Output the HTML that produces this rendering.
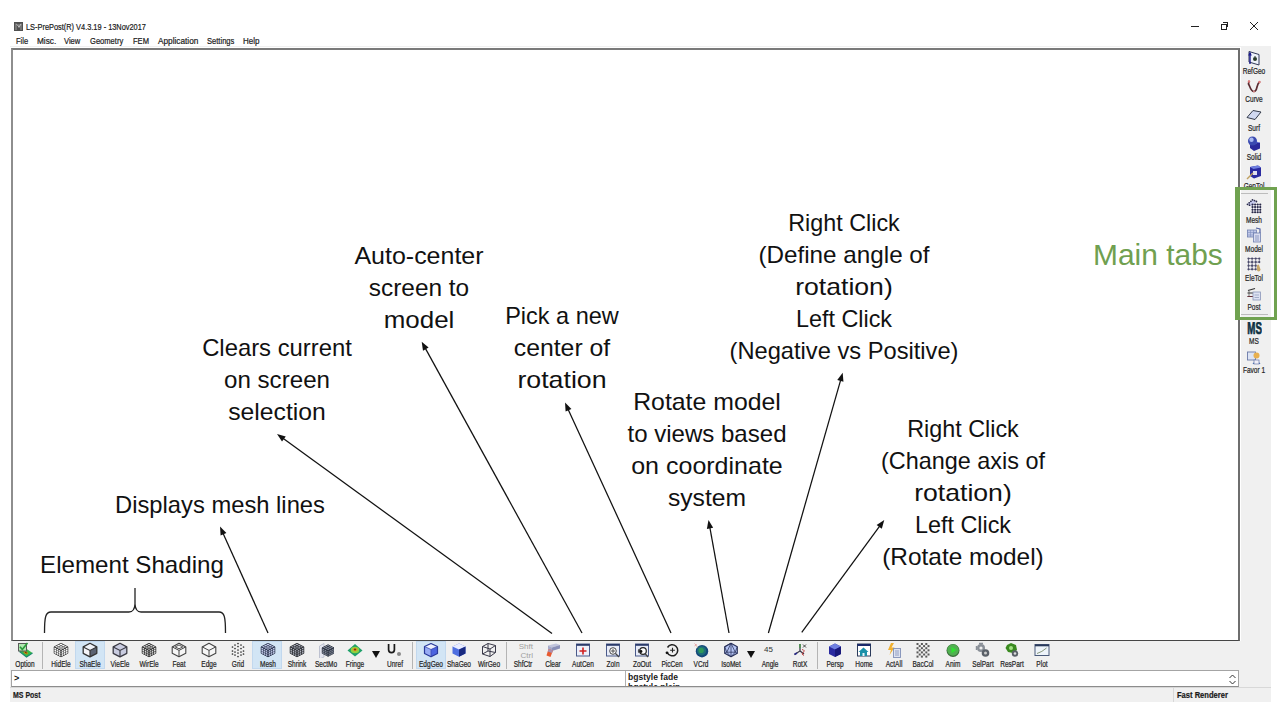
<!DOCTYPE html>
<html><head><meta charset="utf-8">
<style>
*{margin:0;padding:0;box-sizing:border-box}
html,body{width:1280px;height:720px;overflow:hidden;background:#fff;font-family:"Liberation Sans",sans-serif}
.a{position:absolute}
.t{position:absolute;white-space:nowrap;transform-origin:0 0}
.lbl{position:absolute;white-space:nowrap;font-size:8.6px;color:#262626;width:60px;text-align:center;top:659px;line-height:10px;transform:scaleX(0.76);-webkit-text-stroke:0.22px #262626}
.rl{position:absolute;white-space:nowrap;font-size:8.6px;color:#262626;width:60px;text-align:center;left:1224px;line-height:10px;transform:scaleX(0.76);-webkit-text-stroke:0.22px #262626}
.ann{position:absolute;white-space:nowrap;font-size:24px;color:#111;width:400px;text-align:center;line-height:32px;height:32px}
</style></head><body>

<svg class="a" style="left:13.5px;top:21.5px" width="9" height="9.5" viewBox="0 0 9 9.5"><rect x="0" y="0" width="9" height="9.5" fill="#505050"/><path d="M2 1.5V8M5 2V6M7 1.5V8" stroke="#9a9a9a" stroke-width="1"/><path d="M2.5 2L5 5L7 2" stroke="#d0d0d0" stroke-width="0.8" fill="none"/></svg>
<div class="t" style="left:26px;top:21.5px;font-size:8.6px;color:#1a1a1a;transform:scaleX(0.86);-webkit-text-stroke:0.2px #1a1a1a">LS-PrePost(R) V4.3.19 - 13Nov2017</div>
<div class="t" style="left:15.8px;top:35.5px;font-size:8.6px;color:#1a1a1a;transform:scaleX(0.88);-webkit-text-stroke:0.2px #1a1a1a">File</div>
<div class="t" style="left:36.8px;top:35.5px;font-size:8.6px;color:#1a1a1a;transform:scaleX(0.96);-webkit-text-stroke:0.2px #1a1a1a">Misc.</div>
<div class="t" style="left:63.8px;top:35.5px;font-size:8.6px;color:#1a1a1a;transform:scaleX(0.88);-webkit-text-stroke:0.2px #1a1a1a">View</div>
<div class="t" style="left:90px;top:35.5px;font-size:8.6px;color:#1a1a1a;transform:scaleX(0.88);-webkit-text-stroke:0.2px #1a1a1a">Geometry</div>
<div class="t" style="left:133px;top:35.5px;font-size:8.6px;color:#1a1a1a;transform:scaleX(0.88);-webkit-text-stroke:0.2px #1a1a1a">FEM</div>
<div class="t" style="left:157.8px;top:35.5px;font-size:8.6px;color:#1a1a1a;transform:scaleX(0.96);-webkit-text-stroke:0.2px #1a1a1a">Application</div>
<div class="t" style="left:206.6px;top:35.5px;font-size:8.6px;color:#1a1a1a;transform:scaleX(0.88);-webkit-text-stroke:0.2px #1a1a1a">Settings</div>
<div class="t" style="left:243.4px;top:35.5px;font-size:8.6px;color:#1a1a1a;transform:scaleX(0.93);-webkit-text-stroke:0.2px #1a1a1a">Help</div>
<div class="a" style="left:1191px;top:26px;width:8px;height:1px;background:#222"></div>
<div class="a" style="left:1221px;top:24px;width:6px;height:6px;border:1px solid #222"></div>
<div class="a" style="left:1223px;top:22px;width:5px;height:5px;border-top:1px solid #222;border-right:1px solid #222"></div>
<svg class="a" style="left:1249px;top:22px" width="10" height="8" viewBox="0 0 10 8"><path d="M1 0L9 8M9 0L1 8" stroke="#222" stroke-width="1"/></svg>
<div class="a" style="left:10px;top:46px;width:1261px;height:1px;background:#f0f0f0"></div>
<div class="a" style="left:1241px;top:46px;width:30px;height:656px;background:#f0f0f0"></div>
<div class="a" style="left:10px;top:641px;width:1261px;height:61px;background:#f0f0f0"></div>
<div class="a" style="left:11px;top:48px;width:1229px;height:593px;border:2px solid #7a7a7a;border-left-color:#8e8e8e;border-right-color:#6e6e6e;border-bottom:1px solid #464646;background:#fff"></div>
<div class="a" style="left:75px;top:641px;width:30px;height:28px;background:#d2e5f5;border:1px solid #c2d8ee"></div>
<div class="a" style="left:252px;top:641px;width:30px;height:28px;background:#d2e5f5;border:1px solid #c2d8ee"></div>
<div class="a" style="left:415.5px;top:641px;width:30.0px;height:28px;background:#d2e5f5;border:1px solid #c2d8ee"></div>
<div class="a" style="left:42.0px;top:642px;width:1px;height:27px;background:#b4b4b4"></div>
<div class="a" style="left:412.0px;top:642px;width:1px;height:27px;background:#b4b4b4"></div>
<div class="a" style="left:505.5px;top:642px;width:1px;height:27px;background:#b4b4b4"></div>
<div class="a" style="left:817.0px;top:642px;width:1px;height:27px;background:#b4b4b4"></div>
<svg class="a" style="left:17px;top:642px" width="16" height="16" viewBox="0 0 16 16"><path d="M2.5 9.5L9 6.5L15.5 11L9.5 15Z" fill="#3ab84a"/><path d="M2.5 9.5L9.5 15L15.5 11" fill="none" stroke="#1a8a70" stroke-width="1.1"/><ellipse cx="8.8" cy="10.6" rx="2.3" ry="1.3" transform="rotate(30 8.8 10.6)" fill="#d08a10"/><ellipse cx="8.8" cy="10.6" rx="1.1" ry="0.6" transform="rotate(30 8.8 10.6)" fill="#6a3a08"/><rect x="1.5" y="1.5" width="8" height="7.5" fill="#b0e8b0" stroke="#5a5a5a" stroke-width="1"/><path d="M3 4.8L5.3 7.5L10.5 1" fill="none" stroke="#2a9a3a" stroke-width="1.7"/></svg>
<div class="lbl" style="left:-5px">Option</div>
<svg class="a" style="left:52.5px;top:642px" width="16" height="16" viewBox="0 0 16 16"><path d="M8 1.3L14.8 4.9V11.3L8 14.8L1.2 11.3V4.9Z" fill="#333" stroke="#333" stroke-width="0.9" stroke-linejoin="round"/><path d="M8.00 1.59L9.72 2.50L8.00 3.40L6.28 2.50ZM5.73 2.79L7.46 3.69L5.73 4.59L4.01 3.70ZM3.47 3.99L5.19 4.88L3.47 5.78L1.74 4.90ZM10.27 2.79L11.99 3.70L10.27 4.59L8.54 3.69ZM8.00 3.97L9.72 4.88L8.00 5.77L6.28 4.88ZM5.73 5.16L7.46 6.06L5.73 6.95L4.01 6.06ZM12.53 3.99L14.26 4.90L12.53 5.78L10.81 4.88ZM10.27 5.16L11.99 6.06L10.27 6.95L8.54 6.06ZM8.00 6.34L9.72 7.23L8.00 8.12L6.28 7.23ZM1.47 5.30L3.19 6.18L3.19 7.80L1.47 6.92ZM1.47 7.43L3.19 8.32L3.19 9.94L1.47 9.05ZM1.47 9.56L3.19 10.45L3.19 12.07L1.47 11.18ZM3.74 6.46L5.46 7.35L5.46 8.97L3.74 8.08ZM3.74 8.60L5.46 9.48L5.46 11.10L3.74 10.22ZM3.74 10.73L5.46 11.62L5.46 13.24L3.74 12.35ZM6.01 7.63L7.73 8.52L7.73 10.14L6.01 9.25ZM6.01 9.76L7.73 10.65L7.73 12.27L6.01 11.38ZM6.01 11.90L7.73 12.78L7.73 14.40L6.01 13.52ZM8.27 8.52L9.99 7.63L9.99 9.25L8.27 10.14ZM8.27 10.65L9.99 9.76L9.99 11.38L8.27 12.27ZM8.27 12.78L9.99 11.90L9.99 13.52L8.27 14.40ZM10.54 7.35L12.26 6.46L12.26 8.08L10.54 8.97ZM10.54 9.48L12.26 8.60L12.26 10.22L10.54 11.10ZM10.54 11.62L12.26 10.73L12.26 12.35L10.54 13.24ZM12.81 6.18L14.53 5.30L14.53 6.92L12.81 7.80ZM12.81 8.32L14.53 7.43L14.53 9.05L12.81 9.94ZM12.81 10.45L14.53 9.56L14.53 11.18L12.81 12.07Z" fill="#fff"/><path d="M1.2 4.9L8 8.4L14.8 4.9M8 8.4V14.8" fill="none" stroke="#333" stroke-width="0.9"/></svg>
<div class="lbl" style="left:30.5px">HidEle</div>
<svg class="a" style="left:82px;top:642px" width="16" height="16" viewBox="0 0 16 16"><path d="M8 1.3L14.8 4.9L8 8.4L1.2 4.9Z" fill="#eef2f8"/><path d="M1.2 4.9L8 8.4V14.8L1.2 11.3Z" fill="#f4f4f8"/><path d="M14.8 4.9L8 8.4V14.8L14.8 11.3Z" fill="#5a6272"/><path d="M8 1.3L14.8 4.9V11.3L8 14.8L1.2 11.3V4.9Z" fill="none" stroke="#333" stroke-width="1.3" stroke-linejoin="round"/><path d="M1.2 4.9L8 8.4L14.8 4.9M8 8.4V14.8" fill="none" stroke="#333" stroke-width="1.1700000000000002"/></svg>
<div class="lbl" style="left:60px">ShaEle</div>
<svg class="a" style="left:111.5px;top:642px" width="16" height="16" viewBox="0 0 16 16"><path d="M8 1.3L14.8 4.9L8 8.4L1.2 4.9Z" fill="#c9cce0"/><path d="M1.2 4.9L8 8.4V14.8L1.2 11.3Z" fill="#c9cce0"/><path d="M14.8 4.9L8 8.4V14.8L14.8 11.3Z" fill="#c9cce0"/><path d="M8 1.3L14.8 4.9V11.3L8 14.8L1.2 11.3V4.9Z" fill="none" stroke="#3a3a44" stroke-width="1.3" stroke-linejoin="round"/><path d="M1.2 4.9L8 8.4L14.8 4.9M8 8.4V14.8" fill="none" stroke="#3a3a44" stroke-width="1.1700000000000002"/></svg>
<div class="lbl" style="left:89.5px">VieEle</div>
<svg class="a" style="left:141px;top:642px" width="16" height="16" viewBox="0 0 16 16"><path d="M8 1.3L14.8 4.9V11.3L8 14.8L1.2 11.3V4.9Z" fill="#333" stroke="#333" stroke-width="0.9" stroke-linejoin="round"/><path d="M8.00 1.71L9.50 2.50L8.00 3.28L6.50 2.50ZM5.73 2.91L7.23 3.69L5.73 4.48L4.24 3.70ZM3.47 4.10L4.96 4.88L3.47 5.67L1.97 4.89ZM10.27 2.91L11.76 3.70L10.27 4.48L8.77 3.69ZM8.00 4.09L9.50 4.88L8.00 5.65L6.50 4.88ZM5.73 5.28L7.23 6.06L5.73 6.83L4.24 6.06ZM12.53 4.10L14.03 4.89L12.53 5.67L11.04 4.88ZM10.27 5.28L11.76 6.06L10.27 6.83L8.77 6.06ZM8.00 6.46L9.50 7.23L8.00 8.00L6.50 7.23ZM1.59 5.46L3.08 6.23L3.08 7.64L1.59 6.87ZM1.59 7.59L3.08 8.36L3.08 9.77L1.59 9.00ZM1.59 9.73L3.08 10.50L3.08 11.91L1.59 11.14ZM3.85 6.63L5.35 7.40L5.35 8.81L3.85 8.04ZM3.85 8.76L5.35 9.53L5.35 10.94L3.85 10.17ZM3.85 10.89L5.35 11.66L5.35 13.07L3.85 12.30ZM6.12 7.79L7.61 8.56L7.61 9.97L6.12 9.20ZM6.12 9.93L7.61 10.70L7.61 12.11L6.12 11.34ZM6.12 12.06L7.61 12.83L7.61 14.24L6.12 13.47ZM8.39 8.56L9.88 7.79L9.88 9.20L8.39 9.97ZM8.39 10.70L9.88 9.93L9.88 11.34L8.39 12.11ZM8.39 12.83L9.88 12.06L9.88 13.47L8.39 14.24ZM10.65 7.40L12.15 6.63L12.15 8.04L10.65 8.81ZM10.65 9.53L12.15 8.76L12.15 10.17L10.65 10.94ZM10.65 11.66L12.15 10.89L12.15 12.30L10.65 13.07ZM12.92 6.23L14.41 5.46L14.41 6.87L12.92 7.64ZM12.92 8.36L14.41 7.59L14.41 9.00L12.92 9.77ZM12.92 10.50L14.41 9.73L14.41 11.14L12.92 11.91Z" fill="#e8e8e8"/><path d="M1.2 4.9L8 8.4L14.8 4.9M8 8.4V14.8" fill="none" stroke="#333" stroke-width="0.9"/></svg>
<div class="lbl" style="left:119px">WirEle</div>
<svg class="a" style="left:170.5px;top:642px" width="16" height="16" viewBox="0 0 16 16"><path d="M8 1.3L14.8 4.9L8 8.4L1.2 4.9Z" fill="#f6f6f6"/><path d="M1.2 4.9L8 8.4V14.8L1.2 11.3Z" fill="#f6f6f6"/><path d="M14.8 4.9L8 8.4V14.8L14.8 11.3Z" fill="#f6f6f6"/><path d="M8 1.3L14.8 4.9V11.3L8 14.8L1.2 11.3V4.9Z" fill="none" stroke="#444" stroke-width="1.1" stroke-linejoin="round"/><path d="M1.2 4.9L8 8.4L14.8 4.9M8 8.4V14.8" fill="none" stroke="#444" stroke-width="0.9900000000000001"/><path d="M4.2 4.9L8 3L11.8 4.9L8 6.8Z" fill="none" stroke="#444" stroke-width="0.9"/></svg>
<div class="lbl" style="left:148.5px">Feat</div>
<svg class="a" style="left:200.5px;top:642px" width="16" height="16" viewBox="0 0 16 16"><path d="M8 1.3L14.8 4.9L8 8.4L1.2 4.9Z" fill="#f6f6f6"/><path d="M1.2 4.9L8 8.4V14.8L1.2 11.3Z" fill="#f6f6f6"/><path d="M14.8 4.9L8 8.4V14.8L14.8 11.3Z" fill="#f6f6f6"/><path d="M8 1.3L14.8 4.9V11.3L8 14.8L1.2 11.3V4.9Z" fill="none" stroke="#444" stroke-width="1.1" stroke-linejoin="round"/><path d="M1.2 4.9L8 8.4L14.8 4.9M8 8.4V14.8" fill="none" stroke="#444" stroke-width="0.9900000000000001"/></svg>
<div class="lbl" style="left:178.5px">Edge</div>
<svg class="a" style="left:230px;top:642px" width="16" height="16" viewBox="0 0 16 16"><circle cx="8" cy="1.5" r="0.85" fill="#333"/><circle cx="5" cy="3" r="0.85" fill="#333"/><circle cx="11" cy="3" r="0.85" fill="#333"/><circle cx="2.5" cy="5" r="0.85" fill="#333"/><circle cx="8" cy="4.5" r="0.85" fill="#333"/><circle cx="13.5" cy="5" r="0.85" fill="#333"/><circle cx="5" cy="6.5" r="0.85" fill="#333"/><circle cx="11" cy="6.5" r="0.85" fill="#333"/><circle cx="8" cy="8" r="0.85" fill="#333"/><circle cx="2.5" cy="9" r="0.85" fill="#333"/><circle cx="13.5" cy="9" r="0.85" fill="#333"/><circle cx="5" cy="10" r="0.85" fill="#333"/><circle cx="11" cy="10" r="0.85" fill="#333"/><circle cx="8" cy="11" r="0.85" fill="#333"/><circle cx="2.5" cy="12" r="0.85" fill="#333"/><circle cx="13.5" cy="12" r="0.85" fill="#333"/><circle cx="5" cy="13" r="0.85" fill="#333"/><circle cx="11" cy="13" r="0.85" fill="#333"/><circle cx="8" cy="14.5" r="0.85" fill="#333"/></svg>
<div class="lbl" style="left:208px">Grid</div>
<svg class="a" style="left:259.5px;top:642px" width="16" height="16" viewBox="0 0 16 16"><path d="M8 1.3L14.8 4.9V11.3L8 14.8L1.2 11.3V4.9Z" fill="#26304a" stroke="#26304a" stroke-width="0.9" stroke-linejoin="round"/><path d="M8.00 1.61L9.68 2.50L8.00 3.38L6.32 2.50ZM5.73 2.81L7.41 3.69L5.73 4.57L4.06 3.70ZM3.47 4.01L5.14 4.88L3.47 5.76L1.79 4.90ZM10.27 2.81L11.94 3.70L10.27 4.57L8.59 3.69ZM8.00 4.00L9.68 4.88L8.00 5.75L6.32 4.88ZM5.73 5.19L7.41 6.06L5.73 6.93L4.06 6.06ZM12.53 4.01L14.21 4.90L12.53 5.76L10.86 4.88ZM10.27 5.19L11.94 6.06L10.27 6.93L8.59 6.06ZM8.00 6.36L9.68 7.23L8.00 8.10L6.32 7.23ZM1.49 5.33L3.17 6.19L3.17 7.77L1.49 6.91ZM1.49 7.46L3.17 8.33L3.17 9.90L1.49 9.04ZM1.49 9.60L3.17 10.46L3.17 12.04L1.49 11.17ZM3.76 6.50L5.44 7.36L5.44 8.94L3.76 8.07ZM3.76 8.63L5.44 9.49L5.44 11.07L3.76 10.21ZM3.76 10.76L5.44 11.63L5.44 13.20L3.76 12.34ZM6.03 7.66L7.71 8.53L7.71 10.10L6.03 9.24ZM6.03 9.80L7.71 10.66L7.71 12.24L6.03 11.37ZM6.03 11.93L7.71 12.79L7.71 14.37L6.03 13.51ZM8.29 8.53L9.97 7.66L9.97 9.24L8.29 10.10ZM8.29 10.66L9.97 9.80L9.97 11.37L8.29 12.24ZM8.29 12.79L9.97 11.93L9.97 13.51L8.29 14.37ZM10.56 7.36L12.24 6.50L12.24 8.07L10.56 8.94ZM10.56 9.49L12.24 8.63L12.24 10.21L10.56 11.07ZM10.56 11.63L12.24 10.76L12.24 12.34L10.56 13.20ZM12.83 6.19L14.51 5.33L14.51 6.91L12.83 7.77ZM12.83 8.33L14.51 7.46L14.51 9.04L12.83 9.90ZM12.83 10.46L14.51 9.60L14.51 11.17L12.83 12.04Z" fill="#c8d0f0"/><path d="M1.2 4.9L8 8.4L14.8 4.9M8 8.4V14.8" fill="none" stroke="#26304a" stroke-width="0.9"/></svg>
<div class="lbl" style="left:237.5px">Mesh</div>
<svg class="a" style="left:288.5px;top:642px" width="16" height="16" viewBox="0 0 16 16"><path d="M8 1.3L14.8 4.9V11.3L8 14.8L1.2 11.3V4.9Z" fill="#303238" stroke="#303238" stroke-width="0.9" stroke-linejoin="round"/><path d="M8.00 1.76L9.41 2.50L8.00 3.24L6.59 2.50ZM5.73 2.95L7.14 3.69L5.73 4.43L4.33 3.70ZM3.47 4.15L4.87 4.88L3.47 5.62L2.06 4.89ZM10.27 2.95L11.67 3.70L10.27 4.43L8.86 3.69ZM8.00 4.14L9.41 4.88L8.00 5.61L6.59 4.88ZM5.73 5.33L7.14 6.06L5.73 6.79L4.33 6.06ZM12.53 4.15L13.94 4.89L12.53 5.62L11.13 4.88ZM10.27 5.33L11.67 6.06L10.27 6.79L8.86 6.06ZM8.00 6.50L9.41 7.23L8.00 7.96L6.59 7.23ZM1.63 5.53L3.04 6.25L3.04 7.57L1.63 6.85ZM1.63 7.66L3.04 8.38L3.04 9.71L1.63 8.98ZM1.63 9.79L3.04 10.52L3.04 11.84L1.63 11.12ZM3.90 6.69L5.30 7.42L5.30 8.74L3.90 8.02ZM3.90 8.83L5.30 9.55L5.30 10.87L3.90 10.15ZM3.90 10.96L5.30 11.68L5.30 13.01L3.90 12.28ZM6.16 7.86L7.57 8.58L7.57 9.91L6.16 9.18ZM6.16 9.99L7.57 10.72L7.57 12.04L6.16 11.32ZM6.16 12.13L7.57 12.85L7.57 14.17L6.16 13.45ZM8.43 8.58L9.84 7.86L9.84 9.18L8.43 9.91ZM8.43 10.72L9.84 9.99L9.84 11.32L8.43 12.04ZM8.43 12.85L9.84 12.13L9.84 13.45L8.43 14.17ZM10.70 7.42L12.10 6.69L12.10 8.02L10.70 8.74ZM10.70 9.55L12.10 8.83L12.10 10.15L10.70 10.87ZM10.70 11.68L12.10 10.96L12.10 12.28L10.70 13.01ZM12.96 6.25L14.37 5.53L14.37 6.85L12.96 7.57ZM12.96 8.38L14.37 7.66L14.37 8.98L12.96 9.71ZM12.96 10.52L14.37 9.79L14.37 11.12L12.96 11.84Z" fill="#c0c4d0"/><path d="M1.2 4.9L8 8.4L14.8 4.9M8 8.4V14.8" fill="none" stroke="#303238" stroke-width="0.9"/></svg>
<div class="lbl" style="left:266.5px">Shrink</div>
<svg class="a" style="left:317.5px;top:642px" width="16" height="16" viewBox="0 0 16 16"><path d="M1.5 4L6 1.5V15L1.5 17Z" fill="#e4e6f0" stroke="#b8bccc" stroke-width="0.9"/><g transform="translate(3.2 1.6) scale(0.86)"><path d="M8 1.3L14.8 4.9V11.3L8 14.8L1.2 11.3V4.9Z" fill="#262c3a" stroke="#262c3a" stroke-width="0.9" stroke-linejoin="round"/><path d="M8.00 1.78L9.36 2.50L8.00 3.21L6.64 2.50ZM5.73 2.98L7.09 3.69L5.73 4.40L4.37 3.70ZM3.47 4.18L4.83 4.88L3.47 5.60L2.11 4.89ZM10.27 2.98L11.63 3.70L10.27 4.40L8.91 3.69ZM8.00 4.16L9.36 4.88L8.00 5.58L6.64 4.88ZM5.73 5.35L7.09 6.06L5.73 6.76L4.37 6.06ZM12.53 4.18L13.89 4.89L12.53 5.60L11.17 4.88ZM10.27 5.35L11.63 6.06L10.27 6.76L8.91 6.06ZM8.00 6.53L9.36 7.23L8.00 7.93L6.64 7.23ZM1.65 5.56L3.01 6.26L3.01 7.54L1.65 6.84ZM1.65 7.69L3.01 8.39L3.01 9.67L1.65 8.97ZM1.65 9.83L3.01 10.53L3.01 11.81L1.65 11.11ZM3.92 6.73L5.28 7.43L5.28 8.71L3.92 8.01ZM3.92 8.86L5.28 9.56L5.28 10.84L3.92 10.14ZM3.92 10.99L5.28 11.69L5.28 12.97L3.92 12.27ZM6.19 7.89L7.55 8.59L7.55 9.87L6.19 9.17ZM6.19 10.03L7.55 10.73L7.55 12.01L6.19 11.31ZM6.19 12.16L7.55 12.86L7.55 14.14L6.19 13.44ZM8.45 8.59L9.81 7.89L9.81 9.17L8.45 9.87ZM8.45 10.73L9.81 10.03L9.81 11.31L8.45 12.01ZM8.45 12.86L9.81 12.16L9.81 13.44L8.45 14.14ZM10.72 7.43L12.08 6.73L12.08 8.01L10.72 8.71ZM10.72 9.56L12.08 8.86L12.08 10.14L10.72 10.84ZM10.72 11.69L12.08 10.99L12.08 12.27L10.72 12.97ZM12.99 6.26L14.35 5.56L14.35 6.84L12.99 7.54ZM12.99 8.39L14.35 7.69L14.35 8.97L12.99 9.67ZM12.99 10.53L14.35 9.83L14.35 11.11L12.99 11.81Z" fill="#b4bccc"/><path d="M1.2 4.9L8 8.4L14.8 4.9M8 8.4V14.8" fill="none" stroke="#262c3a" stroke-width="0.9"/></g></svg>
<div class="lbl" style="left:295.5px">SectMo</div>
<svg class="a" style="left:347px;top:642px" width="16" height="16" viewBox="0 0 16 16"><path d="M8 2L15.5 8.5L8 14.5L0.5 8.5Z" fill="#1fa06a"/><ellipse cx="8" cy="8" rx="4.2" ry="3.2" fill="#8dd040"/><ellipse cx="8" cy="7.6" rx="2.4" ry="1.8" fill="#e0a020"/><ellipse cx="8" cy="7.5" rx="1.3" ry="0.9" fill="#7a3a10"/></svg>
<div class="lbl" style="left:325px">Fringe</div>
<div class="lbl" style="left:365px">Unref</div>
<svg class="a" style="left:422.5px;top:642px" width="16" height="16" viewBox="0 0 16 16"><path d="M8 1.5L14.5 4.5V11.5L8 14.8L1.5 11.5V4.5Z" fill="#98acf4"/><path d="M8 1.5L14.5 4.5L8 7.5L1.5 4.5Z" fill="#eef2ff"/><path d="M14.5 4.5V11.5L8 14.8V7.5Z" fill="#4a64e0"/><path d="M8 1.5L14.5 4.5V11.5L8 14.8L1.5 11.5V4.5Z" fill="none" stroke="#2a3a9a" stroke-width="1.2" stroke-linejoin="round"/><path d="M1.5 4.5L8 7.5L14.5 4.5M8 7.5V14.8" fill="none" stroke="#3a4ab0" stroke-width="0.8"/></svg>
<div class="lbl" style="left:400.5px">EdgGeo</div>
<svg class="a" style="left:451px;top:642px" width="16" height="16" viewBox="0 0 16 16"><path d="M8 1.5L14.5 4.5V11.5L8 14.8L1.5 11.5V4.5Z" fill="#5070e0"/><path d="M8 1.5L14.5 4.5L8 7.5L1.5 4.5Z" fill="#e8ecff"/><path d="M14.5 4.5V11.5L8 14.8V7.5Z" fill="#1a2a80"/></svg>
<div class="lbl" style="left:429px">ShaGeo</div>
<svg class="a" style="left:481px;top:642px" width="16" height="16" viewBox="0 0 16 16"><path d="M1.5 4.5L7 1.5L14.5 3.5V10.5L9 14.5L1.5 12Z M1.5 4.5L9 7L14.5 3.5 M9 7V14.5 M7 1.5V9 M1.5 12L7 9L14.5 10.5" fill="none" stroke="#3a3a4a" stroke-width="1" stroke-linejoin="round"/></svg>
<div class="lbl" style="left:459px">WirGeo</div>
<div class="lbl" style="left:493px">ShfCtr</div>
<svg class="a" style="left:545px;top:642px" width="16" height="16" viewBox="0 0 16 16"><path d="M3 3.5L11 1.5L15 3L7 5.5Z" fill="#c0c4dc"/><path d="M7 5.5L15 3V6.5L7 9Z" fill="#8a90b8"/><path d="M3 3.5L7 5.5V9L3 7Z" fill="#a4a8c8"/><path d="M3.5 7L8 8.5L5.5 15L1.5 13.5Z" fill="#e85a30"/><path d="M3.5 7L8 8.5L7 11L2.8 9.5Z" fill="#a890b0"/></svg>
<div class="lbl" style="left:523px">Clear</div>
<svg class="a" style="left:575px;top:642px" width="16" height="16" viewBox="0 0 16 16"><rect x="1.5" y="2" width="13" height="12" fill="#eef0fa" stroke="#4a5a8a" stroke-width="1"/><rect x="1.5" y="2" width="13" height="1.8" fill="#2a3a6a"/><path d="M8 5.5V12.5M4.5 9H11.5" stroke="#d02020" stroke-width="1.6"/></svg>
<div class="lbl" style="left:553px">AutCen</div>
<svg class="a" style="left:604.5px;top:642px" width="16" height="16" viewBox="0 0 16 16"><rect x="1.5" y="2" width="13" height="12" fill="#e8ecf8" stroke="#4a5a8a" stroke-width="1"/><rect x="1.5" y="2" width="13" height="1.8" fill="#2a3a6a"/><circle cx="8" cy="9" r="3.3" fill="#fff" stroke="#333" stroke-width="0.9"/><path d="M8 7V11M6 9H10" stroke="#333" stroke-width="0.8"/><path d="M10.5 11.5L14 15" stroke="#444" stroke-width="1.2"/></svg>
<div class="lbl" style="left:582.5px">ZoIn</div>
<svg class="a" style="left:634px;top:642px" width="16" height="16" viewBox="0 0 16 16"><rect x="1.5" y="2" width="13" height="12" fill="#e8ecf8" stroke="#4a5a8a" stroke-width="1"/><rect x="1.5" y="2" width="13" height="1.8" fill="#2a3a6a"/><circle cx="9" cy="9" r="3.3" fill="#fff" stroke="#222" stroke-width="1.2"/><circle cx="7" cy="9.5" r="1.4" fill="#111"/><path d="M5 7Q3.5 9 5 11" fill="none" stroke="#333" stroke-width="0.9"/><path d="M11 11.5L14 15" stroke="#444" stroke-width="1.2"/></svg>
<div class="lbl" style="left:612px">ZoOut</div>
<svg class="a" style="left:663.5px;top:642px" width="16" height="16" viewBox="0 0 16 16"><path d="M3.2 10.5A5.5 5.5 0 1 0 3.5 5.5" fill="none" stroke="#222" stroke-width="1.5"/><circle cx="3" cy="10.8" r="1.4" fill="#111"/><path d="M8.5 5.8V10.6M6.1 8.2H10.9" stroke="#222" stroke-width="1.1"/></svg>
<div class="lbl" style="left:641.5px">PicCen</div>
<svg class="a" style="left:693px;top:642px" width="16" height="16" viewBox="0 0 16 16"><circle cx="9" cy="9.2" r="6.2" fill="#14487a"/><circle cx="8.6" cy="8.8" r="4.6" fill="#1e6e7a"/><circle cx="8.2" cy="8.4" r="2.6" fill="#2e9a5a"/><path d="M1.5 1.5L3.5 3.5M1.5 4L4 2.5" stroke="#e08a8a" stroke-width="0.7"/><path d="M3.5 4.5L4.5 5.5" stroke="#e8c070" stroke-width="0.8"/></svg>
<div class="lbl" style="left:671px">VCrd</div>
<svg class="a" style="left:722.5px;top:642px" width="16" height="16" viewBox="0 0 16 16"><path d="M8 1.2L14.3 4.8V11.2L8 14.8L1.7 11.2V4.8Z" fill="#b4c4f4" stroke="#283058" stroke-width="1.1" stroke-linejoin="round"/><path d="M8 1.2L3.8 10.2H12.2Z M8 1.2V14.8 M1.7 4.8L8 1.2 M3.8 10.2L1.7 11.2 M12.2 10.2L14.3 11.2 M3.8 10.2L8 14.8L12.2 10.2 M1.7 4.8L3.8 10.2 M14.3 4.8L12.2 10.2" fill="none" stroke="#283058" stroke-width="0.75"/></svg>
<div class="lbl" style="left:700.5px">IsoMet</div>
<div class="lbl" style="left:740px">Angle</div>
<svg class="a" style="left:792px;top:642px" width="16" height="16" viewBox="0 0 16 16"><path d="M8 2V9L2.5 12.5M8 9L12 12" stroke="#3a3a4a" stroke-width="1.3" fill="none"/><path d="M8 2V6" stroke="#40a040" stroke-width="1.2"/><path d="M2.5 12.5L5 11" stroke="#2a2a8a" stroke-width="1.6"/><path d="M11 2.5L14 5.5M14 2.5L11 5.5" stroke="#333" stroke-width="0.9"/><path d="M10 7.5Q14 8.5 11 10.5Q8.5 12 12 13.5" fill="none" stroke="#c04040" stroke-width="1"/></svg>
<div class="lbl" style="left:770px">RotX</div>
<svg class="a" style="left:826.5px;top:642px" width="16" height="16" viewBox="0 0 16 16"><path d="M8 1.5L14 4.5V12L8 15L2 12V4.5Z" fill="#2a2aa0"/><path d="M8 1.5L14 4.5L8 7.5L2 4.5Z" fill="#7080e0"/><path d="M14 4.5V12L8 15V7.5Z" fill="#18187a"/></svg>
<div class="lbl" style="left:804.5px">Persp</div>
<svg class="a" style="left:856px;top:642px" width="16" height="16" viewBox="0 0 16 16"><rect x="1.5" y="2" width="13" height="12" fill="#fff" stroke="#2a3a5a" stroke-width="1"/><rect x="1.5" y="2" width="13" height="2" fill="#1a2a6a"/><path d="M2.5 10L7.5 5.5L12.5 10H11V14H4V10Z" fill="#1a90a8"/><rect x="6.5" y="11" width="2" height="3" fill="#e8f4f8"/></svg>
<div class="lbl" style="left:834px">Home</div>
<svg class="a" style="left:885.5px;top:642px" width="16" height="16" viewBox="0 0 16 16"><path d="M5 1L2 8H5L3.5 13L8.5 5.5H5.5L8 1Z" fill="#f0b030"/><rect x="7.5" y="6.5" width="7" height="9" fill="#dde2f0" stroke="#8090b8" stroke-width="0.9"/><path d="M9 9H13M9 11H13M9 13H13" stroke="#8090b8" stroke-width="0.8"/></svg>
<div class="lbl" style="left:863.5px">ActAll</div>
<svg class="a" style="left:915px;top:642px" width="16" height="16" viewBox="0 0 16 16"><rect x="1.5" y="1.0" width="2" height="2" fill="#5a5a5a"/><rect x="1.5" y="5.2" width="2" height="2" fill="#5a5a5a"/><rect x="1.5" y="9.4" width="2" height="2" fill="#5a5a5a"/><rect x="1.5" y="13.6" width="2" height="2" fill="#5a5a5a"/><rect x="3.7" y="3.1" width="2" height="2" fill="#5a5a5a"/><rect x="3.7" y="7.3" width="2" height="2" fill="#5a5a5a"/><rect x="3.7" y="11.5" width="2" height="2" fill="#5a5a5a"/><rect x="5.9" y="1.0" width="2" height="2" fill="#5a5a5a"/><rect x="5.9" y="5.2" width="2" height="2" fill="#5a5a5a"/><rect x="5.9" y="9.4" width="2" height="2" fill="#5a5a5a"/><rect x="5.9" y="13.6" width="2" height="2" fill="#5a5a5a"/><rect x="8.1" y="3.1" width="2" height="2" fill="#5a5a5a"/><rect x="8.1" y="7.3" width="2" height="2" fill="#5a5a5a"/><rect x="8.1" y="11.5" width="2" height="2" fill="#5a5a5a"/><rect x="10.3" y="1.0" width="2" height="2" fill="#5a5a5a"/><rect x="10.3" y="5.2" width="2" height="2" fill="#5a5a5a"/><rect x="10.3" y="9.4" width="2" height="2" fill="#5a5a5a"/><rect x="10.3" y="13.6" width="2" height="2" fill="#5a5a5a"/><rect x="12.5" y="3.1" width="2" height="2" fill="#5a5a5a"/><rect x="12.5" y="7.3" width="2" height="2" fill="#5a5a5a"/><rect x="12.5" y="11.5" width="2" height="2" fill="#5a5a5a"/></svg>
<div class="lbl" style="left:893px">BacCol</div>
<svg class="a" style="left:945px;top:642px" width="16" height="16" viewBox="0 0 16 16"><circle cx="8" cy="8.5" r="6.5" fill="#3a6a3a"/><circle cx="8" cy="8" r="5.8" fill="#50b050"/><path d="M6.5 4.8L11.5 8L6.5 11.2Z" fill="#30e030"/></svg>
<div class="lbl" style="left:923px">Anim</div>
<svg class="a" style="left:974.5px;top:642px" width="16" height="16" viewBox="0 0 16 16"><circle cx="6" cy="6" r="4" fill="#8a9098"/><circle cx="6" cy="6" r="1.6" fill="#eee"/><circle cx="10.5" cy="11" r="3.8" fill="#5a6068"/><circle cx="10.5" cy="11" r="1.5" fill="#ccc"/><path d="M4 1.5H8M1.5 4V8" stroke="#8a9098" stroke-width="1.4"/></svg>
<div class="lbl" style="left:952.5px">SelPart</div>
<svg class="a" style="left:1004px;top:642px" width="16" height="16" viewBox="0 0 16 16"><path d="M3 3L7 1L12 3L13 8L9 11L4 10L1.5 6Z" fill="#3a8a20"/><circle cx="7" cy="6" r="2" fill="#a0e080"/><circle cx="11" cy="11.5" r="3.2" fill="#5a6068"/><circle cx="11" cy="11.5" r="1.3" fill="#ddd"/></svg>
<div class="lbl" style="left:982px">ResPart</div>
<svg class="a" style="left:1034px;top:642px" width="16" height="16" viewBox="0 0 16 16"><rect x="1" y="2.5" width="14" height="11" fill="#eef4fa" stroke="#4a5a7a" stroke-width="1"/><rect x="1" y="2.5" width="14" height="1.8" fill="#2a3a5a"/><path d="M3 11.5Q8 10 12.5 6" fill="none" stroke="#7a8a6a" stroke-width="0.9"/></svg>
<div class="lbl" style="left:1012px">Plot</div>
<svg class="a" style="left:371.5px;top:651px" width="8" height="7" viewBox="0 0 8 7"><path d="M0 0H8L4 7Z" fill="#111"/></svg>
<svg class="a" style="left:747px;top:651px" width="8" height="7" viewBox="0 0 8 7"><path d="M0 0H8L4 7Z" fill="#111"/></svg>
<svg class="a" style="left:386px;top:643px" width="11" height="11" viewBox="0 0 11 11"><path d="M2.6 1V6.8Q2.6 9.6 5.5 9.6Q8.4 9.6 8.4 6.8V1" fill="none" stroke="#1a1a1a" stroke-width="1.7"/></svg>
<div class="a" style="left:397px;top:651.5px;width:4px;height:4px;border-radius:50%;background:#888"></div>
<div class="t" style="left:515px;top:642px;font-size:8px;line-height:9px;color:#a0a0a0;text-align:right;width:18px">Shft<br>Ctrl</div>
<div class="t" style="left:764px;top:645px;font-size:8px;color:#333">45</div>
<div class="a" style="left:11px;top:670px;width:1228px;height:17px;background:#fff;border:1px solid #a4a4a4;border-bottom-color:#8c8c8c"></div>
<div class="t" style="left:14px;top:672.5px;font-size:9px;font-weight:bold;color:#111">&gt;</div>
<div class="a" style="left:625px;top:671px;width:1px;height:15px;background:#b0b0b0"></div>
<div class="a" style="left:626px;top:671px;width:590px;height:15px;overflow:hidden"><div class="t" style="left:1.5px;top:0.5px;font-size:9px;line-height:10px;font-weight:bold;color:#1a1a1a;transform:scaleX(0.95)">bgstyle fade<br>bgstyle plain</div></div>
<svg class="a" style="left:1228px;top:673px" width="9" height="13" viewBox="0 0 9 13"><path d="M1.5 5L4.5 2L7.5 5M1.5 8L4.5 11L7.5 8" fill="none" stroke="#333" stroke-width="1"/></svg>
<div class="a" style="left:10px;top:687px;width:1261px;height:1px;background:#d8d8d8"></div>
<div class="t" style="left:12.5px;top:690px;font-size:8.6px;font-weight:bold;color:#1a1a1a;transform:scaleX(0.81);-webkit-text-stroke:0.2px #1a1a1a">MS Post</div>
<div class="a" style="left:1173px;top:688px;width:1px;height:14px;background:#d8d8d8"></div>
<div class="t" style="left:1176.5px;top:690px;font-size:8.6px;font-weight:bold;color:#1a1a1a;transform:scaleX(0.88);-webkit-text-stroke:0.2px #1a1a1a">Fast Renderer</div>
<svg class="a" style="left:1245.5px;top:50px" width="16" height="16" viewBox="0 0 16 16"><path d="M3 1.5L13 4.5V15L3 12Z" fill="#eef2fa" stroke="#333a5a" stroke-width="1"/><path d="M4 14V3" stroke="#1a1a8a" stroke-width="1.4"/><path d="M2.2 5.5L4 1.5L5.8 5.5Z" fill="#1a1a8a"/><circle cx="9" cy="9" r="2" fill="#2a3a2a"/><path d="M9 6V7" stroke="#2a3a2a"/></svg>
<div class="rl" style="top:65.5px">RefGeo</div>
<svg class="a" style="left:1245.5px;top:79px" width="16" height="16" viewBox="0 0 16 16"><path d="M3 2.5Q1.8 4.5 3.5 7Q5.5 12.5 8 12.5Q10 12.5 11 8Q12 4 13.5 3" fill="none" stroke="#5a2a30" stroke-width="1.7" stroke-linecap="round"/><circle cx="3" cy="2.5" r="1.2" fill="#e07a7a"/><circle cx="13.5" cy="3" r="1.2" fill="#e07a7a"/><circle cx="8" cy="12.5" r="0.9" fill="#e08a8a"/></svg>
<div class="rl" style="top:94px">Curve</div>
<svg class="a" style="left:1245.5px;top:109px" width="16" height="16" viewBox="0 0 16 16"><path d="M7 1.5L15 3L9 10.5L1 8.5Z" fill="#d0d8f0" stroke="#333a4a" stroke-width="1" stroke-linejoin="round"/></svg>
<div class="rl" style="top:122.5px">Surf</div>
<svg class="a" style="left:1245.5px;top:135px" width="16" height="16" viewBox="0 0 16 16"><path d="M6 9L14 7.5V13.5L8 16L4 13V9Z" fill="#2a2a9a"/><path d="M6 9L14 7.5L8 6Z" fill="#5060d0"/><circle cx="6.5" cy="6" r="4.5" fill="#3a4ab0"/><circle cx="5.5" cy="4.8" r="2.2" fill="#a8b8f0"/></svg>
<div class="rl" style="top:151.5px">Solid</div>
<svg class="a" style="left:1245.5px;top:164px" width="16" height="16" viewBox="0 0 16 16"><path d="M4 3L12 1.5L15 3.5V12L8 14.5L4 12Z" fill="#2a2aa0"/><path d="M4 3L12 1.5L15 3.5L7.5 5Z" fill="#7080e0"/><rect x="7" y="7" width="4" height="4" fill="#e0e0f0"/><path d="M1 15L7 9" stroke="#c0a060" stroke-width="1.5"/></svg>
<div class="rl" style="top:180.5px">GenTol</div>
<svg class="a" style="left:1245.5px;top:198px" width="16" height="16" viewBox="0 0 16 16"><path d="M1.2 6.3L6.4 1.8L10.5 3.5L5.5 8Z" fill="#c8ccf0"/><path d="M6.5 6.5H14.3V14.3H6.5Z M9.1 6.5V14.3M11.7 6.5V14.3M6.5 9.1H14.3M6.5 11.7H14.3" fill="#fff" stroke="#6a6a8a" stroke-width="0.5"/><g fill="#2a2a4a"><circle cx="6.5" cy="6.5" r="1.05"/><circle cx="6.5" cy="9.1" r="1.05"/><circle cx="6.5" cy="11.7" r="1.05"/><circle cx="6.5" cy="14.3" r="1.05"/><circle cx="9.1" cy="6.5" r="1.05"/><circle cx="9.1" cy="9.1" r="1.05"/><circle cx="9.1" cy="11.7" r="1.05"/><circle cx="9.1" cy="14.3" r="1.05"/><circle cx="11.7" cy="6.5" r="1.05"/><circle cx="11.7" cy="9.1" r="1.05"/><circle cx="11.7" cy="11.7" r="1.05"/><circle cx="11.7" cy="14.3" r="1.05"/><circle cx="14.3" cy="6.5" r="1.05"/><circle cx="14.3" cy="9.1" r="1.05"/><circle cx="14.3" cy="11.7" r="1.05"/><circle cx="14.3" cy="14.3" r="1.05"/><circle cx="1.5" cy="6.3" r="0.9"/><circle cx="3.2" cy="4.8" r="0.9"/><circle cx="4.9" cy="3.3" r="0.9"/><circle cx="6.5" cy="1.8" r="0.9"/><circle cx="8.5" cy="2.6" r="0.9"/><circle cx="10.4" cy="3.5" r="0.9"/><circle cx="3.5" cy="7.2" r="0.9"/></g></svg>
<div class="rl" style="top:214.5px">Mesh</div>
<svg class="a" style="left:1245.5px;top:227px" width="16" height="16" viewBox="0 0 16 16"><rect x="1.5" y="3" width="9" height="7" fill="#c0c8e8" stroke="#7080b0" stroke-width="0.8"/><path d="M1.5 5.5H10.5M1.5 8H10.5M4.5 3V10M7.5 3V10" stroke="#8090c0" stroke-width="0.6"/><rect x="7.5" y="6" width="7" height="9" fill="#d8dcf0" stroke="#7080b0" stroke-width="0.8"/><path d="M9 9H13M9 11H13M9 13H13" stroke="#7080b0" stroke-width="0.7"/><path d="M10 1L14 2V6" stroke="#5060a0" stroke-width="1.2" fill="none"/></svg>
<div class="rl" style="top:243.5px">Model</div>
<svg class="a" style="left:1245.5px;top:256px" width="16" height="16" viewBox="0 0 16 16"><path d="M2.5 2.5H13.3M2.5 6.1H13.3M2.5 9.7H9.7M2.5 13.3H9.7M2.5 2.5V13.3M6.1 2.5V13.3M9.7 2.5V13.3M13.3 2.5V6.1" stroke="#6a6a88" stroke-width="0.8" fill="none"/><g fill="#4a4a6a"><circle cx="2.5" cy="2.5" r="1.1"/><circle cx="2.5" cy="6.1" r="1.1"/><circle cx="2.5" cy="9.7" r="1.1"/><circle cx="2.5" cy="13.3" r="1.1"/><circle cx="6.1" cy="2.5" r="1.1"/><circle cx="6.1" cy="6.1" r="1.1"/><circle cx="6.1" cy="9.7" r="1.1"/><circle cx="6.1" cy="13.3" r="1.1"/><circle cx="9.7" cy="2.5" r="1.1"/><circle cx="9.7" cy="6.1" r="1.1"/><circle cx="9.7" cy="9.7" r="1.1"/><circle cx="9.7" cy="13.3" r="1.1"/><circle cx="13.3" cy="2.5" r="1.1"/><circle cx="13.3" cy="6.1" r="1.1"/></g><path d="M11 9.5Q12.5 8 13 9L14.5 13.5Q14.5 15.5 12.5 15.5Q11 15.5 10.8 13Z" fill="#c8a868"/></svg>
<div class="rl" style="top:272.5px">EleTol</div>
<svg class="a" style="left:1245.5px;top:285px" width="16" height="16" viewBox="0 0 16 16"><path d="M2 5.5L9 3.5" stroke="#333" stroke-width="1.3"/><path d="M1.5 8H9M1.5 11.5H8" stroke="#333" stroke-width="1.1"/><path d="M3 6V12" stroke="#555" stroke-width="0.8"/><path d="M1.5 11.5H8" stroke="#8a2a3a" stroke-width="0.6"/><rect x="7" y="7" width="7.5" height="8" fill="#dde2f2" stroke="#8a96b8" stroke-width="0.8"/><path d="M8.5 10H13M8.5 12.5H13" stroke="#8a96b8" stroke-width="0.7"/></svg>
<div class="rl" style="top:301.5px">Post</div>
<svg class="a" style="left:1245.5px;top:322px" width="16" height="16" viewBox="0 0 16 16"><text x="0" y="0" font-family="Liberation Sans" font-weight="bold" font-size="16.5" fill="#0c3042" stroke="#0c3042" stroke-width="0.7" transform="translate(1.3 12.3) scale(0.59 1)">MS</text></svg>
<div class="rl" style="top:336px">MS</div>
<svg class="a" style="left:1245.5px;top:349px" width="16" height="16" viewBox="0 0 16 16"><rect x="1.5" y="3" width="8" height="8" fill="#dde4f4" stroke="#6a7aa8" stroke-width="0.9"/><circle cx="10.5" cy="6.5" r="3" fill="#e8b050"/><path d="M6.5 15Q10.5 8 14.5 15Z" fill="#3a6ab0"/><rect x="8" y="11" width="5" height="4" fill="#f0f0f8" stroke="#6a7aa8" stroke-width="0.7"/></svg>
<div class="rl" style="top:365px">Favor 1</div>
<div class="a" style="left:1235px;top:186.5px;width:5px;height:133.7px;background:#70a250"></div>
<div class="a" style="left:1273.5px;top:186.5px;width:3.5px;height:133.7px;background:#70a250"></div>
<div class="a" style="left:1235px;top:186.5px;width:42px;height:3.5px;background:#70a250"></div>
<div class="a" style="left:1235px;top:316.8px;width:42px;height:3.4px;background:#70a250"></div>
<div class="a" style="left:1241px;top:193px;width:27px;height:1px;background:#bcbcbc"></div>
<div class="a" style="left:1241px;top:314px;width:27px;height:1px;background:#bcbcbc"></div>
<div class="ann" style="left:-67.69999999999999px;top:549.30px;transform:scaleX(1.0056)">Element Shading</div>
<div class="ann" style="left:19.900000000000006px;top:489.10px;transform:scaleX(0.9895)">Displays mesh lines</div>
<div class="ann" style="left:76.5px;top:332.00px;transform:scaleX(0.9933)">Clears current</div>
<div class="ann" style="left:76.5px;top:364.00px;transform:scaleX(1.0049)">on screen</div>
<div class="ann" style="left:76.5px;top:396.00px;transform:scaleX(1.0296)">selection</div>
<div class="ann" style="left:219.2px;top:240.10px;transform:scaleX(1.0403)">Auto-center</div>
<div class="ann" style="left:219.2px;top:272.10px;transform:scaleX(1.0165)">screen to</div>
<div class="ann" style="left:219.2px;top:304.10px;transform:scaleX(1.0806)">model</div>
<div class="ann" style="left:362.29999999999995px;top:300.10px;transform:scaleX(0.9789)">Pick a new</div>
<div class="ann" style="left:362.29999999999995px;top:332.10px;transform:scaleX(1.0323)">center of</div>
<div class="ann" style="left:362.29999999999995px;top:364.10px;transform:scaleX(1.1143)">rotation</div>
<div class="ann" style="left:507.20000000000005px;top:386.20px;transform:scaleX(1.0345)">Rotate model</div>
<div class="ann" style="left:507.20000000000005px;top:418.20px;transform:scaleX(1.0019)">to views based</div>
<div class="ann" style="left:507.20000000000005px;top:450.20px;transform:scaleX(1.0420)">on coordinate</div>
<div class="ann" style="left:507.20000000000005px;top:482.20px;transform:scaleX(1.0270)">system</div>
<div class="ann" style="left:644.1px;top:207.10px;transform:scaleX(0.9717)">Right Click</div>
<div class="ann" style="left:644.1px;top:239.10px;transform:scaleX(1.0101)">(Define angle of</div>
<div class="ann" style="left:644.1px;top:271.10px;transform:scaleX(1.1082)">rotation)</div>
<div class="ann" style="left:644.1px;top:303.10px;transform:scaleX(0.9742)">Left Click</div>
<div class="ann" style="left:644.1px;top:335.10px;transform:scaleX(0.9865)">(Negative vs Positive)</div>
<div class="ann" style="left:763.1px;top:413.20px;transform:scaleX(0.9717)">Right Click</div>
<div class="ann" style="left:763.1px;top:445.20px;transform:scaleX(0.9760)">(Change axis of</div>
<div class="ann" style="left:763.1px;top:477.20px;transform:scaleX(1.1082)">rotation)</div>
<div class="ann" style="left:763.1px;top:509.20px;transform:scaleX(0.9742)">Left Click</div>
<div class="ann" style="left:763.1px;top:541.20px;transform:scaleX(1.0176)">(Rotate model)</div>
<div class="t" style="left:1092.8px;top:238.7px;font-size:29px;color:#70a050;transform:scaleX(1.032)">Main tabs</div>
<svg class="a" style="left:0;top:0" width="1280" height="720"><path d="M268 633L222.67 532.43" stroke="#111" stroke-width="1.25"/><path d="M220 526.5L226.41 532.93L220.58 535.56Z" fill="#111"/><path d="M552 633.5L282.26 437.82" stroke="#111" stroke-width="1.25"/><path d="M277 434L285.76 436.40L282.00 441.58Z" fill="#111"/><path d="M582 633L424.83 347.39" stroke="#111" stroke-width="1.25"/><path d="M421.7 341.7L428.60 347.60L422.99 350.69Z" fill="#111"/><path d="M671 633L567.72 408.41" stroke="#111" stroke-width="1.25"/><path d="M565 402.5L571.46 408.89L565.64 411.56Z" fill="#111"/><path d="M729 633L709.66 526.40" stroke="#111" stroke-width="1.25"/><path d="M708.5 520L713.17 527.79L706.87 528.93Z" fill="#111"/><path d="M768.4 633L840.92 379.05" stroke="#111" stroke-width="1.25"/><path d="M842.7 372.8L843.44 381.85L837.29 380.09Z" fill="#111"/><path d="M801.75 632.3L880.40 525.24" stroke="#111" stroke-width="1.25"/><path d="M884.25 520L881.80 528.74L876.64 524.96Z" fill="#111"/><path d="M44.5 633C44.5 617 45.5 612 51 612H129Q134.5 612 135 604V588M135 604Q135.5 612 141 612H219C224.5 612 225.5 617 225.5 633" fill="none" stroke="#222" stroke-width="1.3"/></svg>
</body></html>
